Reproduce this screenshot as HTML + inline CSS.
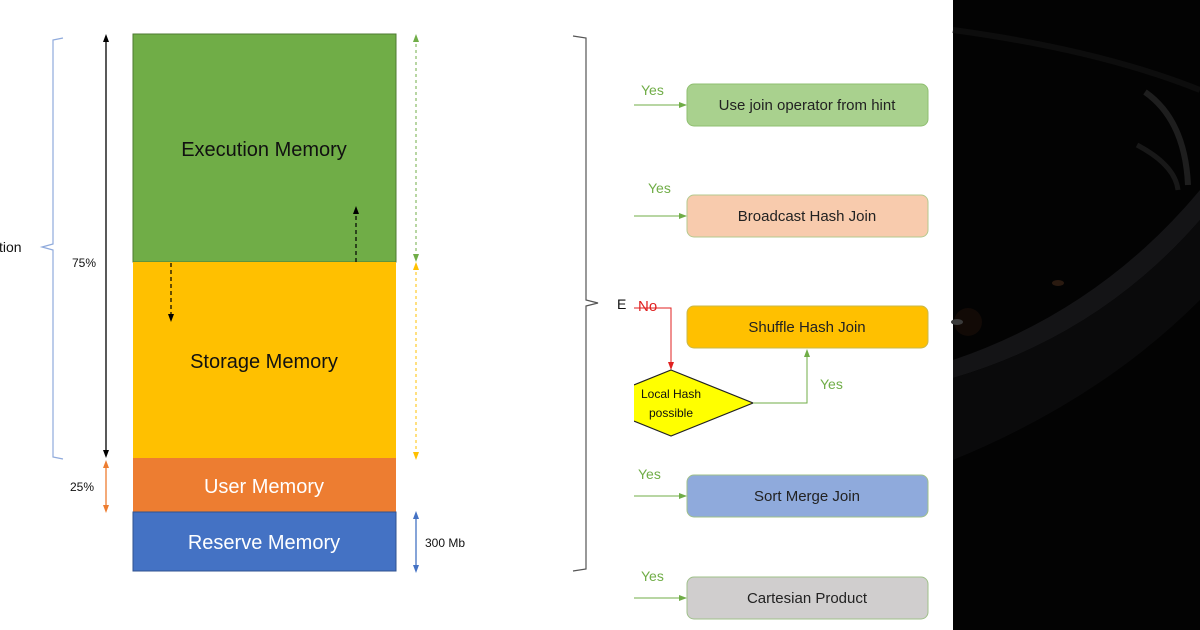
<!DOCTYPE html>
<html><head><meta charset="utf-8"><style>
html,body{margin:0;padding:0;background:#fff;width:1200px;height:630px;overflow:hidden}
svg{display:block;font-family:"Liberation Sans","DejaVu Sans",sans-serif}
</style></head><body>
<svg width="1200" height="630" viewBox="0 0 1200 630" xmlns="http://www.w3.org/2000/svg">
<defs>
<marker id="ab" markerWidth="8" markerHeight="8" refX="4" refY="4" orient="auto-start-reverse" markerUnits="userSpaceOnUse"><path d="M0,1 L8,4 L0,7 z" fill="#000"/></marker>
<marker id="ag" markerWidth="8" markerHeight="8" refX="4" refY="4" orient="auto-start-reverse" markerUnits="userSpaceOnUse"><path d="M0,1 L8,4 L0,7 z" fill="#70ad47"/></marker>
<marker id="ay" markerWidth="8" markerHeight="8" refX="4" refY="4" orient="auto-start-reverse" markerUnits="userSpaceOnUse"><path d="M0,1 L8,4 L0,7 z" fill="#ffc000"/></marker>
<marker id="ao" markerWidth="8" markerHeight="8" refX="4" refY="4" orient="auto-start-reverse" markerUnits="userSpaceOnUse"><path d="M0,1 L8,4 L0,7 z" fill="#ed7d31"/></marker>
<marker id="au" markerWidth="8" markerHeight="8" refX="4" refY="4" orient="auto-start-reverse" markerUnits="userSpaceOnUse"><path d="M0,1 L8,4 L0,7 z" fill="#4472c4"/></marker>
<marker id="fg" markerWidth="8" markerHeight="8" refX="7" refY="4" orient="auto" markerUnits="userSpaceOnUse"><path d="M0,1 L8,4 L0,7 z" fill="#70ad47"/></marker>
<marker id="fr" markerWidth="8" markerHeight="8" refX="7" refY="4" orient="auto" markerUnits="userSpaceOnUse"><path d="M0,1 L8,4 L0,7 z" fill="#e02020"/></marker>
<clipPath id="fc"><rect x="634" y="0" width="319" height="630"/></clipPath>
</defs>

<rect x="133" y="34" width="263" height="228" fill="#70ad47" stroke="#4e7a32" stroke-width="1"/>
<rect x="133" y="262" width="263" height="196" fill="#ffc000"/>
<rect x="133" y="458" width="263" height="54" fill="#ed7d31"/>
<rect x="133" y="512" width="263" height="59" fill="#4472c4" stroke="#2f528f" stroke-width="1"/>
<text x="264" y="156" font-size="20" text-anchor="middle" fill="#111">Execution Memory</text>
<text x="264" y="368" font-size="20" text-anchor="middle" fill="#111">Storage Memory</text>
<text x="264" y="493" font-size="20" text-anchor="middle" fill="#fff">User Memory</text>
<text x="264" y="549" font-size="20" text-anchor="middle" fill="#fff">Reserve Memory</text>

<line x1="171" y1="263" x2="171" y2="318" stroke="#000" stroke-width="1.2" stroke-dasharray="4,3" style="marker-end:url(#ab)"/>
<line x1="356" y1="262" x2="356" y2="210" stroke="#000" stroke-width="1.2" stroke-dasharray="4,3" style="marker-end:url(#ab)"/>

<line x1="106" y1="38" x2="106" y2="454" stroke="#000" stroke-width="1.3" marker-start="url(#ab)" marker-end="url(#ab)"/>
<line x1="106" y1="464" x2="106" y2="509" stroke="#ed7d31" stroke-width="1.3" marker-start="url(#ao)" marker-end="url(#ao)"/>
<text x="72" y="267" font-size="12" fill="#111">75%</text>
<text x="70" y="491" font-size="12" fill="#111">25%</text>
<path d="M63,38 L53,40 L53,244 L42,247 L53,250 L53,457 L63,459" fill="none" stroke="#8faadc" stroke-width="1.2"/>
<text x="-1" y="252" font-size="14" fill="#111">tion</text>

<line x1="416" y1="38" x2="416" y2="258" stroke="#70ad47" stroke-width="1" stroke-dasharray="3,3" marker-start="url(#ag)" marker-end="url(#ag)"/>
<line x1="416" y1="266" x2="416" y2="456" stroke="#ffc000" stroke-width="1" stroke-dasharray="3,3" marker-start="url(#ay)" marker-end="url(#ay)"/>
<line x1="416" y1="515" x2="416" y2="569" stroke="#4472c4" stroke-width="1.3" marker-start="url(#au)" marker-end="url(#au)"/>
<text x="425" y="547" font-size="12" fill="#111">300 Mb</text>

<path d="M573,36 L586,38 L586,300 L598,303 L586,306 L586,569 L573,571" fill="none" stroke="#555" stroke-width="1.2"/>
<text x="617" y="309" font-size="14" fill="#111">E</text>

<g clip-path="url(#fc)" font-size="15">
<rect x="687" y="84" width="241" height="42" rx="7" fill="#a9d18e" stroke="#8fbf70"/>
<text x="807" y="110" text-anchor="middle" fill="#222">Use join operator from hint</text>
<rect x="687" y="195" width="241" height="42" rx="7" fill="#f8cbad" stroke="#b5c98e"/>
<text x="807" y="221" text-anchor="middle" fill="#222">Broadcast Hash Join</text>
<rect x="687" y="306" width="241" height="42" rx="7" fill="#ffc000" stroke="#c9b84a"/>
<text x="807" y="332" text-anchor="middle" fill="#222">Shuffle Hash Join</text>
<rect x="687" y="475" width="241" height="42" rx="7" fill="#8faadc" stroke="#9fc08a"/>
<text x="807" y="501" text-anchor="middle" fill="#222">Sort Merge Join</text>
<rect x="687" y="577" width="241" height="42" rx="7" fill="#d0cece" stroke="#9fc08a"/>
<text x="807" y="603" text-anchor="middle" fill="#222">Cartesian Product</text>

<line x1="634" y1="105" x2="686" y2="105" stroke="#70ad47" stroke-width="1" marker-end="url(#fg)"/>
<line x1="634" y1="216" x2="686" y2="216" stroke="#70ad47" stroke-width="1" marker-end="url(#fg)"/>
<line x1="634" y1="496" x2="686" y2="496" stroke="#70ad47" stroke-width="1" marker-end="url(#fg)"/>
<line x1="634" y1="598" x2="686" y2="598" stroke="#70ad47" stroke-width="1" marker-end="url(#fg)"/>
<text x="641" y="95" fill="#70ad47" font-size="14">Yes</text>
<text x="648" y="193" fill="#70ad47" font-size="14">Yes</text>
<text x="638" y="479" fill="#70ad47" font-size="14">Yes</text>
<text x="641" y="581" fill="#70ad47" font-size="14">Yes</text>
<text x="638" y="311" fill="#e02020" font-size="15">No</text>
<path d="M634,308 L671,308 L671,369" fill="none" stroke="#e02020" stroke-width="1" marker-end="url(#fr)"/>
<polygon points="671,370 753,403 671,436 589,403" fill="#ffff00" stroke="#222" stroke-width="1.2"/>
<text x="671" y="398" text-anchor="middle" font-size="12" fill="#111">Local Hash</text>
<text x="671" y="417" text-anchor="middle" font-size="12" fill="#111">possible</text>
<path d="M753,403 L807,403 L807,350" fill="none" stroke="#70ad47" stroke-width="1" marker-end="url(#fg)"/>
<text x="820" y="389" fill="#70ad47" font-size="14">Yes</text>
</g>

<rect x="953" y="0" width="247" height="630" fill="#030303"/>
<path d="M953,30 Q1100,50 1200,90" fill="none" stroke="#0d0d0d" stroke-width="6"/>
<path d="M1145,92 Q1185,120 1188,185" fill="none" stroke="#1e1e1e" stroke-width="6"/>
<path d="M1137,145 Q1175,165 1178,190" fill="none" stroke="#181818" stroke-width="5"/>
<path d="M953,360 Q1100,310 1200,190 L1200,220 Q1100,335 953,378 Z" fill="#141416"/>
<path d="M953,378 Q1100,335 1200,220 L1200,300 Q1100,400 953,460 Z" fill="#0a0a0b"/>
<ellipse cx="968" cy="322" rx="14" ry="14" fill="#120a06"/>
<ellipse cx="1058" cy="283" rx="6" ry="3" fill="#2a1a10"/>
<ellipse cx="957" cy="322" rx="6" ry="3" fill="#3a3a3a"/>
</svg>
</body></html>
